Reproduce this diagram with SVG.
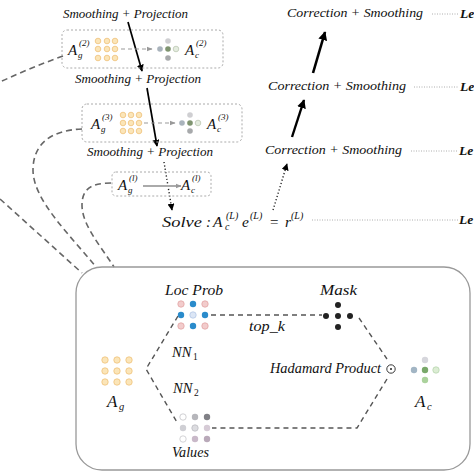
<svg xmlns="http://www.w3.org/2000/svg" width="474" height="474" viewBox="0 0 474 474">
<style>
.t{font-family:"Liberation Serif","DejaVu Serif",serif;font-style:italic;fill:#111}
.lbl{font-size:13.5px}
.sm{font-size:9px}
.box{fill:none;stroke:#aaa;stroke-width:1;stroke-dasharray:2,2}
.og{fill:#fbe5b8;stroke:#efc27a;stroke-width:0.8}
.dl{fill:none;stroke:#666;stroke-width:1.6;stroke-dasharray:6,4}
.il{fill:none;stroke:#555;stroke-width:1.4;stroke-dasharray:5,4}
.lev{fill:none;stroke:#999;stroke-width:0.8;stroke-dasharray:1,1.5}
</style>
<defs>
<marker id="ab" viewBox="0 0 10 10" refX="9" refY="5" markerWidth="7" markerHeight="7" markerUnits="userSpaceOnUse" orient="auto"><path d="M0,0 L10,5 L0,10 z" fill="#000"/></marker>
<marker id="abig" viewBox="0 0 10 10" refX="9" refY="5" markerWidth="9" markerHeight="9" markerUnits="userSpaceOnUse" orient="auto"><path d="M0,0 L10,5 L0,10 z" fill="#000"/></marker>
<marker id="ag" viewBox="0 0 10 10" refX="9" refY="5" markerWidth="6" markerHeight="6" markerUnits="userSpaceOnUse" orient="auto"><path d="M0,1 L10,5 L0,9 z" fill="#999"/></marker>
</defs>
<rect width="474" height="474" fill="#fff"/>

<g id="connectors">
<path class="dl" d="M63,56 Q30,68 0,82"/>
<path class="dl" d="M82,129 C50,130 33,145 33,170 C33,200 70,235 96,267"/>
<path class="dl" d="M111,183 C90,183 82,190 82,205 C82,225 100,245 114,267"/>
<path class="dl" d="M0,199 L82,273"/>
<line x1="128" y1="22" x2="142" y2="71" stroke="#000" stroke-width="1.7" marker-end="url(#ab)"/>
<line x1="147" y1="88" x2="157" y2="146" stroke="#000" stroke-width="1.7" marker-end="url(#ab)"/>
<line x1="164" y1="162" x2="172" y2="210" stroke="#222" stroke-width="1.4" stroke-dasharray="1.2,2.2" marker-end="url(#ab)"/>
<line x1="313" y1="73" x2="325" y2="32" stroke="#000" stroke-width="2.6" marker-end="url(#abig)"/>
<line x1="292" y1="137" x2="304" y2="100" stroke="#000" stroke-width="2.4" marker-end="url(#abig)"/>
<line x1="273" y1="210" x2="287" y2="164" stroke="#222" stroke-width="1.4" stroke-dasharray="1.2,2.2" marker-end="url(#ab)"/>
<line class="lev" x1="432" y1="14" x2="459" y2="14"/>
<line class="lev" x1="414" y1="87" x2="458" y2="87"/>
<line class="lev" x1="411" y1="151" x2="458" y2="151"/>
<line class="lev" x1="312" y1="220" x2="458" y2="220"/>
<path class="il" d="M178,316 L146,369 L178,424"/>
<line class="il" x1="211" y1="315" x2="322" y2="315"/>
<line class="il" x1="359" y1="318" x2="387" y2="359"/>
<path class="il" d="M387,379 L357,428 L212,428"/>
</g>

<g id="labels">
<text class="t lbl" x="63" y="18" textLength="125" lengthAdjust="spacingAndGlyphs">Smoothing + Projection</text>
<text class="t lbl" x="75" y="83" textLength="126" lengthAdjust="spacingAndGlyphs">Smoothing + Projection</text>
<text class="t lbl" x="87" y="156" textLength="126" lengthAdjust="spacingAndGlyphs">Smoothing + Projection</text>
<text class="t lbl" x="287" y="17" textLength="136" lengthAdjust="spacingAndGlyphs">Correction + Smoothing</text>
<text class="t lbl" x="268" y="90" textLength="138" lengthAdjust="spacingAndGlyphs">Correction + Smoothing</text>
<text class="t lbl" x="265" y="154" textLength="137" lengthAdjust="spacingAndGlyphs">Correction + Smoothing</text>
<text class="t lbl" x="460" y="18" font-weight="bold">Le</text>
<text class="t lbl" x="460" y="91" font-weight="bold">Le</text>
<text class="t lbl" x="459" y="155" font-weight="bold">Le</text>
<text class="t lbl" x="459" y="224" font-weight="bold">Le</text>
</g>

<g id="solve">
<text class="t" font-size="15.5" x="162" y="227" textLength="40" lengthAdjust="spacingAndGlyphs">Solve</text>
<text class="t" font-size="15" x="206" y="227">:</text>
<text class="t" font-size="15.5" x="213" y="227">A</text>
<text class="t" font-size="10" x="225" y="230">c</text>
<text class="t" font-size="10" x="226" y="219">(L)</text>
<text class="t" font-size="15.5" x="242" y="227">e</text>
<text class="t" font-size="10" x="250" y="219">(L)</text>
<text class="t" font-size="15" x="270" y="227" style="font-style:normal">=</text>
<text class="t" font-size="15.5" x="285" y="227">r</text>
<text class="t" font-size="10" x="291" y="219">(L)</text>
</g>

<g id="level2">
<rect class="box" x="62" y="30" width="161" height="38" rx="5"/>
<text class="t" font-size="15" x="68" y="55">A</text>
<text class="t sm" x="78" y="58">g</text>
<text class="t sm" x="79" y="46">(2)</text>
<circle class="og" cx="98" cy="41" r="2.8"/><circle class="og" cx="107" cy="41" r="2.8"/><circle class="og" cx="115" cy="41" r="2.8"/>
<circle class="og" cx="98" cy="49" r="2.8"/><circle class="og" cx="107" cy="49" r="2.8"/><circle class="og" cx="115" cy="49" r="2.8"/>
<circle class="og" cx="98" cy="58" r="2.8"/><circle class="og" cx="107" cy="58" r="2.8"/><circle class="og" cx="115" cy="58" r="2.8"/>
<line x1="121" y1="49" x2="152" y2="49" stroke="#999" stroke-width="1.2" stroke-dasharray="4,3" marker-end="url(#ag)"/>
<circle cx="168" cy="41" r="2.8" fill="#cfcfd2"/>
<circle cx="160" cy="49" r="2.8" fill="#a9b3bc"/>
<circle cx="168" cy="49" r="2.8" fill="#7f9470"/>
<circle cx="176" cy="49" r="2.8" fill="#e4ecdf" stroke="#bcc8b4" stroke-width="0.8"/>
<circle cx="168" cy="58" r="2.8" fill="#a7a9ab"/>
<text class="t" font-size="15" x="185" y="55">A</text>
<text class="t sm" x="195" y="58">c</text>
<text class="t sm" x="196" y="46">(2)</text>
</g>

<g id="level3">
<rect class="box" x="82" y="104" width="160" height="38" rx="5"/>
<text class="t" font-size="15" x="91" y="129">A</text>
<text class="t sm" x="101" y="132">g</text>
<text class="t sm" x="102" y="120">(3)</text>
<circle class="og" cx="123" cy="115" r="2.8"/><circle class="og" cx="131" cy="115" r="2.8"/><circle class="og" cx="139" cy="115" r="2.8"/>
<circle class="og" cx="123" cy="123" r="2.8"/><circle class="og" cx="131" cy="123" r="2.8"/><circle class="og" cx="139" cy="123" r="2.8"/>
<circle class="og" cx="123" cy="131" r="2.8"/><circle class="og" cx="131" cy="131" r="2.8"/><circle class="og" cx="139" cy="131" r="2.8"/>
<line x1="144" y1="123" x2="175" y2="123" stroke="#999" stroke-width="1.2" stroke-dasharray="4,3" marker-end="url(#ag)"/>
<circle cx="190" cy="115" r="2.8" fill="#cfcfd2"/>
<circle cx="182" cy="123" r="2.8" fill="#a9b3bc"/>
<circle cx="190" cy="123" r="2.8" fill="#7f9470"/>
<circle cx="198" cy="123" r="2.8" fill="#e4ecdf" stroke="#bcc8b4" stroke-width="0.8"/>
<circle cx="190" cy="131" r="2.8" fill="#a7a9ab"/>
<text class="t" font-size="15" x="207" y="129">A</text>
<text class="t sm" x="217" y="132">c</text>
<text class="t sm" x="218" y="120">(3)</text>
</g>

<g id="levell">
<rect class="box" x="112" y="172" width="99" height="24" rx="4"/>
<text class="t" font-size="15" x="118" y="190">A</text>
<text class="t sm" x="128" y="193">g</text>
<text class="t sm" x="129" y="181">(l)</text>
<line x1="143" y1="186" x2="181" y2="186" stroke="#aaa" stroke-width="1.8" marker-end="url(#ag)"/>
<text class="t" font-size="15" x="181" y="190">A</text>
<text class="t sm" x="191" y="193">c</text>
<text class="t sm" x="192" y="181">(l)</text>
</g>

<g id="module">
<rect x="76" y="267" width="394" height="203" rx="26" fill="none" stroke="#999" stroke-width="1.3"/>
</g>

<g id="Ag">
<circle class="og" cx="105" cy="360" r="3.2"/><circle class="og" cx="117" cy="360" r="3.2"/><circle class="og" cx="129" cy="360" r="3.2"/>
<circle class="og" cx="105" cy="371" r="3.2"/><circle class="og" cx="117" cy="371" r="3.2"/><circle class="og" cx="129" cy="371" r="3.2"/>
<circle class="og" cx="105" cy="382" r="3.2"/><circle class="og" cx="117" cy="382" r="3.2"/><circle class="og" cx="129" cy="382" r="3.2"/>
<text class="t" font-size="17" x="107" y="407">A</text>
<text class="t" font-size="10.5" x="119" y="410">g</text>
</g>

<g id="locprob">
<text class="t" font-size="14" x="165" y="295" textLength="58" lengthAdjust="spacingAndGlyphs">Loc Prob</text>
<circle cx="181" cy="304" r="3.2" fill="#f2cccc" stroke="#e2a4a4" stroke-width="0.8"/>
<circle cx="193" cy="304" r="3.2" fill="#2a8bcb"/>
<circle cx="205" cy="304" r="3.2" fill="#f2cccc" stroke="#e2a4a4" stroke-width="0.8"/>
<circle cx="181" cy="315" r="3.2" fill="#2a8bcb"/>
<circle cx="193" cy="315" r="3.2" fill="#dce6f5" stroke="#b4c8e6" stroke-width="0.8"/>
<circle cx="205" cy="315" r="3.2" fill="#2a8bcb"/>
<circle cx="181" cy="326" r="3.2" fill="#f2cccc" stroke="#e2a4a4" stroke-width="0.8"/>
<circle cx="193" cy="326" r="3.2" fill="#2a8bcb"/>
<circle cx="205" cy="326" r="3.2" fill="#f2cccc" stroke="#e2a4a4" stroke-width="0.8"/>
</g>

<g id="nn">
<text class="t" font-size="14.5" x="172" y="357">NN</text>
<text class="t" font-size="9.5" x="193" y="360" style="font-style:normal">1</text>
<text class="t" font-size="14.5" x="173" y="393">NN</text>
<text class="t" font-size="9.5" x="194" y="396" style="font-style:normal">2</text>
<text class="t" font-size="14" x="249" y="331" textLength="36" lengthAdjust="spacingAndGlyphs">top_k</text>
</g>

<g id="values">
<circle cx="183" cy="417" r="3.2" fill="#fff" stroke="#c4c4c8" stroke-width="0.8"/>
<circle cx="195" cy="417" r="3.2" fill="#b6b6bb"/>
<circle cx="207" cy="417" r="3.2" fill="#808086"/>
<circle cx="183" cy="428" r="3.2" fill="#cfcfd4"/>
<circle cx="195" cy="428" r="3.2" fill="#dcdce0" stroke="#bdbdc2" stroke-width="0.8"/>
<circle cx="207" cy="428" r="3.2" fill="#d6cbd6"/>
<circle cx="183" cy="439" r="3.2" fill="#fff" stroke="#c8c8cc" stroke-width="0.8"/>
<circle cx="195" cy="439" r="3.2" fill="#c9b9c9"/>
<circle cx="207" cy="439" r="3.2" fill="#b9a9b9"/>
<text class="t" font-size="14" x="172" y="457" textLength="37" lengthAdjust="spacingAndGlyphs">Values</text>
</g>

<g id="mask">
<text class="t" font-size="14" x="320" y="295" textLength="37" lengthAdjust="spacingAndGlyphs">Mask</text>
<circle cx="338" cy="305" r="3" fill="#222"/>
<circle cx="326" cy="316" r="3" fill="#222"/>
<circle cx="338" cy="316" r="3" fill="#222"/>
<circle cx="350" cy="316" r="3" fill="#222"/>
<circle cx="338" cy="327" r="3" fill="#222"/>
</g>

<g id="hadamard">
<text class="t" font-size="14" x="270" y="373" textLength="111" lengthAdjust="spacingAndGlyphs">Hadamard Product</text>
<circle cx="391" cy="369" r="4.2" fill="#fff" stroke="#222" stroke-width="0.9"/>
<circle cx="391" cy="369" r="1" fill="#222"/>
</g>

<g id="Ac">
<circle cx="425" cy="360" r="3.2" fill="#d6d6dc"/>
<circle cx="414" cy="370" r="3.2" fill="#a2b5c4"/>
<circle cx="425" cy="370" r="3.2" fill="#79a86a"/>
<circle cx="436" cy="370" r="3.2" fill="#dcedd4" stroke="#b8d6ae" stroke-width="0.8"/>
<circle cx="425" cy="380" r="3.2" fill="#abd29c"/>
<text class="t" font-size="17" x="415" y="407">A</text>
<text class="t" font-size="10.5" x="427" y="410">c</text>
</g>
</svg>
